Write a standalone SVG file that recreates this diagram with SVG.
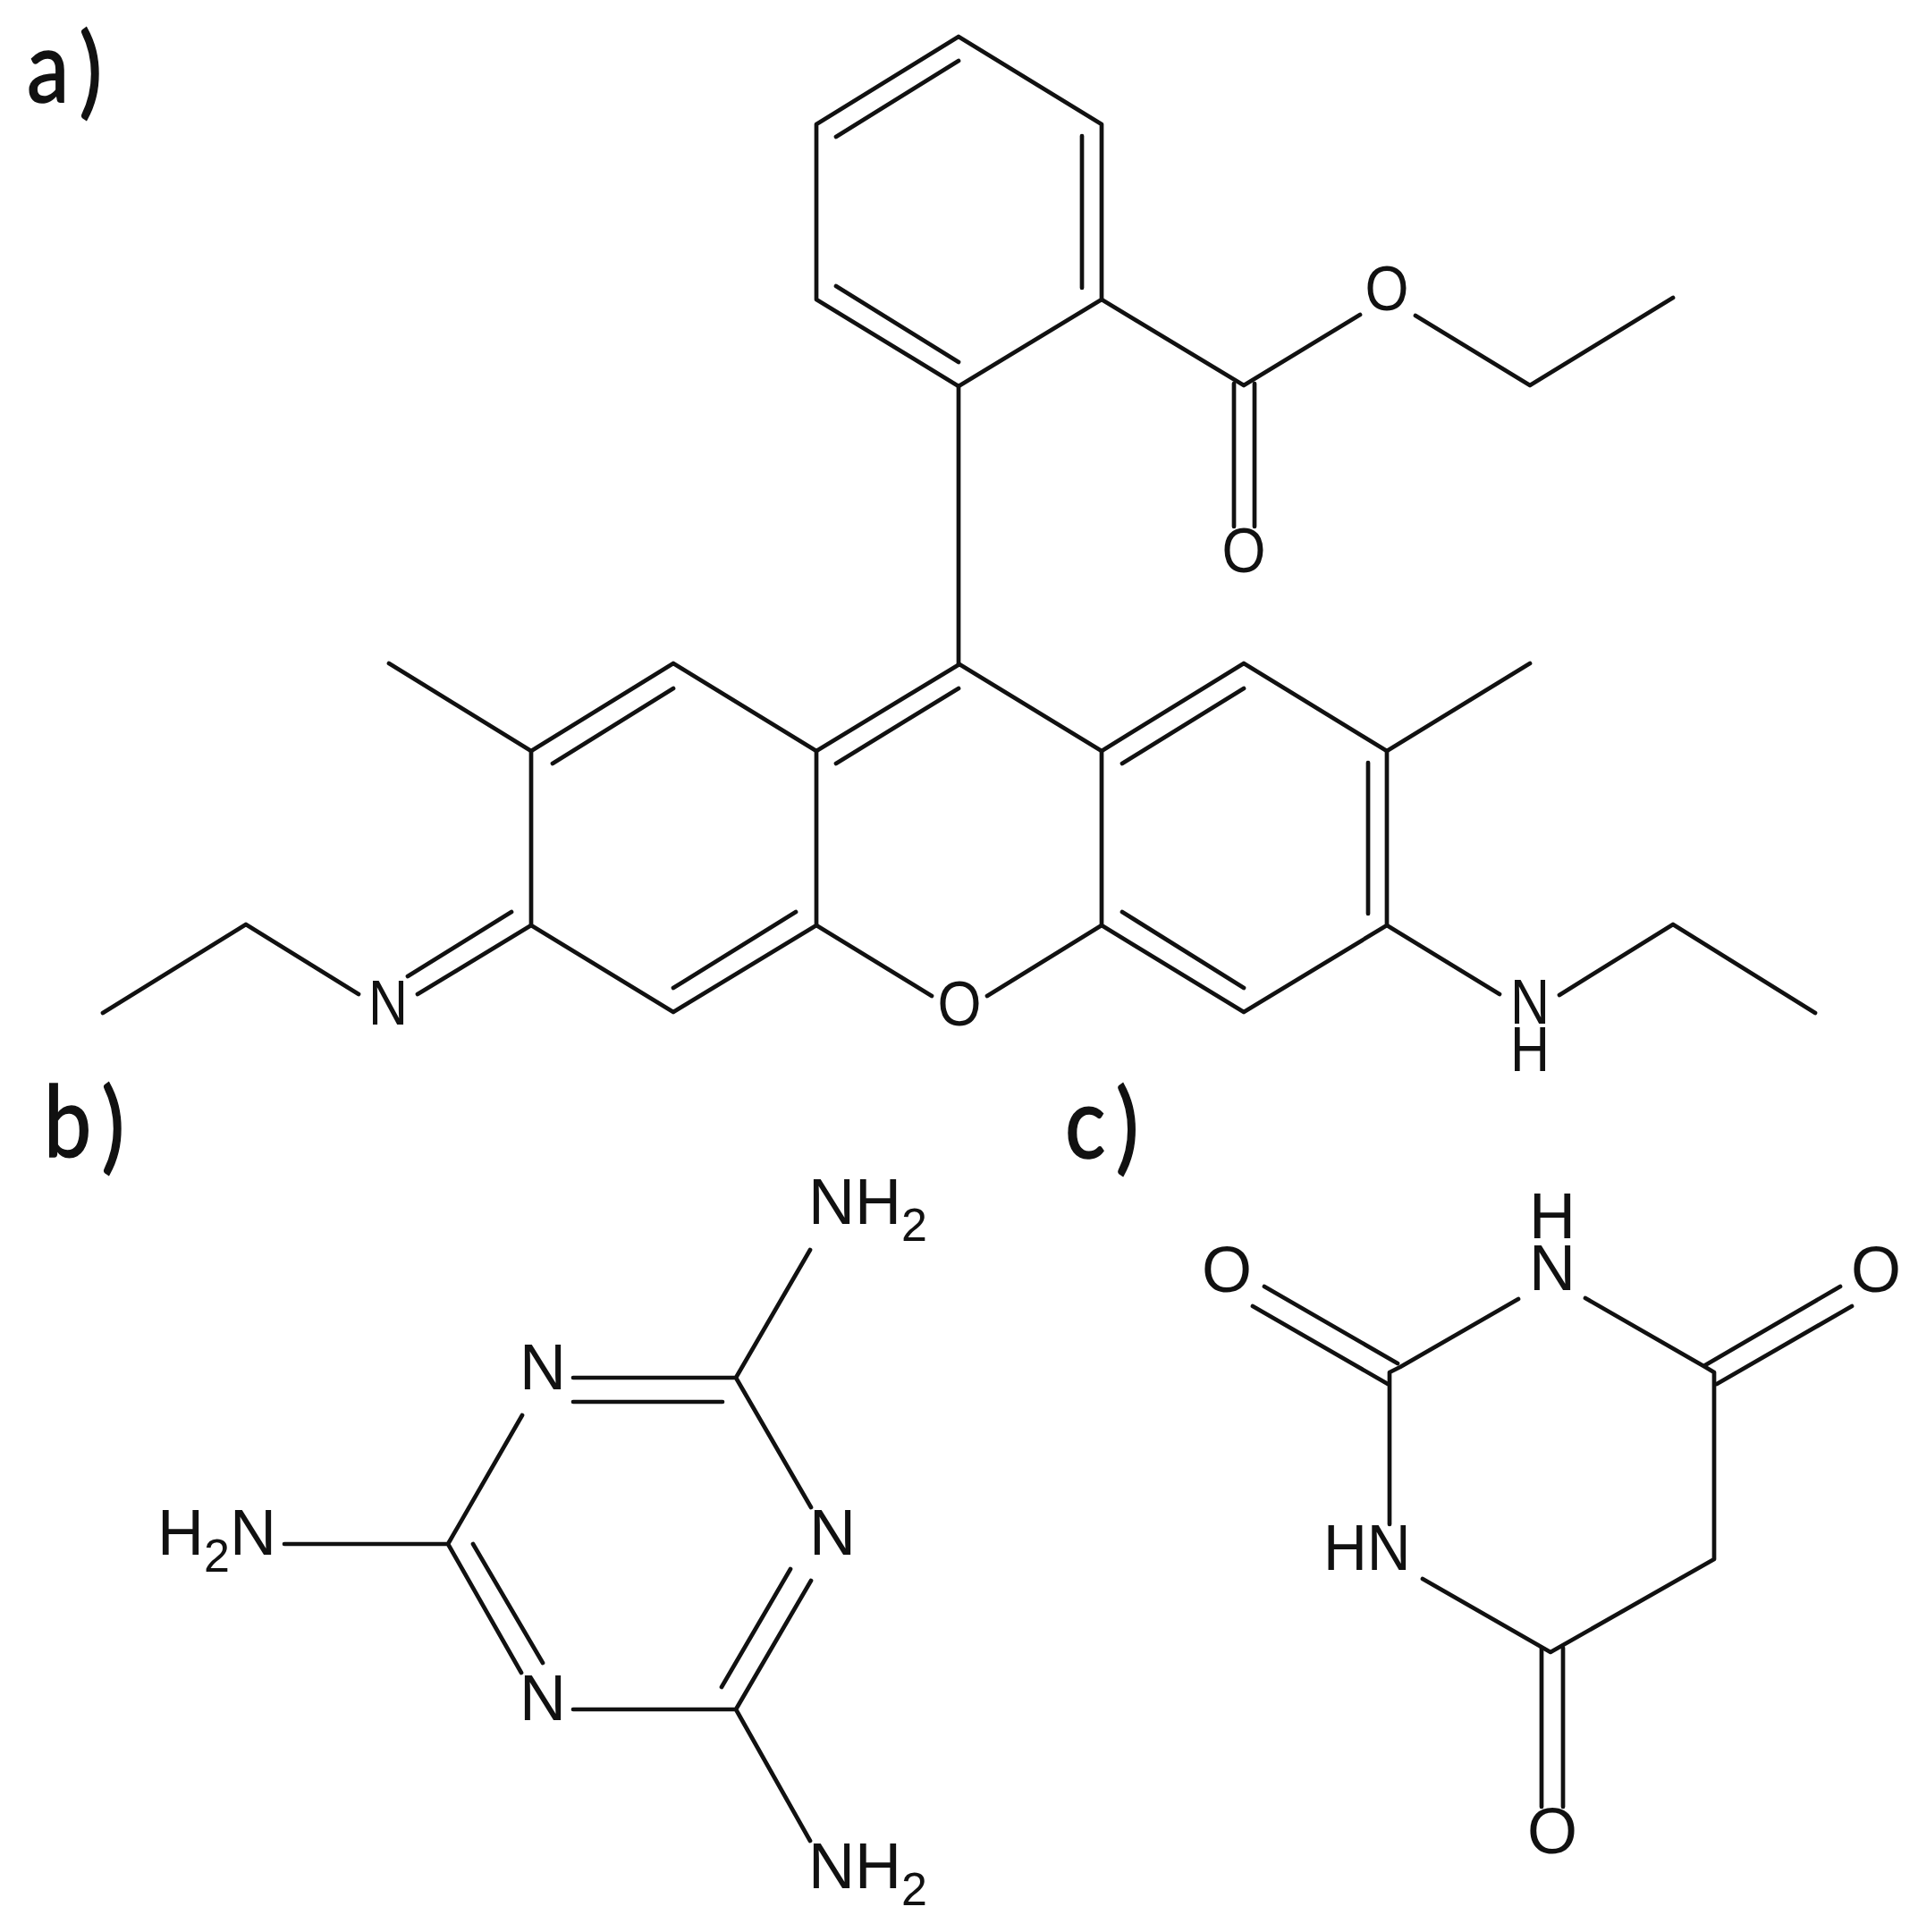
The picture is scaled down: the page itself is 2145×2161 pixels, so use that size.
<svg xmlns="http://www.w3.org/2000/svg" width="2145" height="2161" viewBox="0 0 2145 2161">
<style>
.b{fill:none;stroke:#111;stroke-width:4.7;stroke-linecap:round;stroke-linejoin:round}
.t{font-family:"Liberation Sans",Arial,sans-serif;fill:#111}
.a{font-size:70px;text-anchor:middle}
.m{font-size:72px}
.s{font-size:52px}
.p{font-family:Lato,"Open Sans",sans-serif;font-size:110px;fill:#111;stroke:#111;stroke-width:1.6}
.q{font-size:112px}
</style>
<rect width="2145" height="2161" fill="#fff"/>
<g id="connectors">
<g id="bonds-a">
<path class="b" d="M1072 41L1232 139V335L1072 432L913 335V139Z"/>
<path class="b" d="M935 153L1072 68M935 320L1072 405M1210 152V322"/>
<path class="b" d="M1072 432V743"/>
<path class="b" d="M1232 335L1391 431L1521 352M1583 353L1711 431L1871 333"/>
<path class="b" d="M1380 429V589M1403 429V589"/>
<path class="b" d="M435 742L594 840L753 742L913 840L1073 743L1232 840L1391 742L1551 840L1711 742"/>
<path class="b" d="M594 840V1035L753 1132L913 1035V840M1232 840V1035L1391 1132L1551 1035V840"/>
<path class="b" d="M753 770L618 854M1072 770L935 854M1391 770L1255 854M1530 853V1022M890 1020L753 1105M1255 1020L1391 1105"/>
<path class="b" d="M913 1035L1042 1114M1232 1035L1104 1114"/>
<path class="b" d="M594 1035L467 1112M572 1020L456 1092M401 1112L275 1034L115 1133"/>
<path class="b" d="M1551 1035L1677 1112M1744 1113L1871 1034L2030 1133"/>
</g>
<g id="bonds-b">
<path class="b" d="M641 1541H823L906 1398M823 1541L907 1686M641 1568H808"/>
<path class="b" d="M584 1583L501 1727H318M501 1727L583 1871M529 1727L607 1860"/>
<path class="b" d="M907 1768L823 1912L641 1912M884 1755L807 1887M823 1912L906 2059"/>
</g>
<g id="bonds-c">
<path class="b" d="M1698 1453L1566 1529L1554 1535V1705M1773 1452L1907 1529L1917 1535V1744L1734 1848L1591 1766"/>
<path class="b" d="M1414 1439L1563 1525M1401 1461L1552 1548M1907 1527L2058 1439M1920 1548L2071 1461"/>
<path class="b" d="M1724 1843V2021M1748 1843V2021"/>
</g>
</g>
<g id="panel-labels">
<text id="label-a" class="p" transform="translate(30 114) scale(.865 1)">a<tspan class="q" dx="13" dy="3.5">)</tspan></text>
<text id="label-b" class="p" transform="translate(49 1293) scale(.865 1)">b<tspan class="q" dx="13" dy="5">)</tspan></text>
<text id="label-c" class="p" transform="translate(1191 1295) scale(.865 1)">c<tspan class="q" dx="13" dy="3.5">)</tspan></text>
</g>
<g id="rhodamine-atoms">
<g id="a-O1"><text class="t a" transform="translate(1551 347) scale(.9 1)">O</text></g>
<g id="a-O2"><text class="t a" transform="translate(1391 640) scale(.9 1)">O</text></g>
<g id="a-O3"><text class="t a" transform="translate(1073 1147) scale(.9 1)">O</text></g>
<g id="a-N1"><text class="t a" transform="translate(434 1146) scale(.87 1)">N</text></g>
<g id="a-N2"><text class="t a" transform="translate(1711 0) scale(.87 1)"><tspan x="0" y="1145">N</tspan><tspan x="0" y="1198">H</tspan></text></g>
</g>
<g id="melamine-atoms">
<g id="b-N1"><text class="t m" text-anchor="middle" x="607" y="1554">N</text></g>
<g id="b-N2"><text class="t m" text-anchor="middle" x="931" y="1739">N</text></g>
<g id="b-N3"><text class="t m" text-anchor="middle" x="607" y="1924">N</text></g>
<g id="b-NH2-top"><text class="t m" x="904" y="1369">NH<tspan class="s" dy="19">2</tspan></text></g>
<g id="b-NH2-bottom"><text class="t m" x="904" y="2112">NH<tspan class="s" dy="19">2</tspan></text></g>
<g id="b-NH2-left"><text class="t m" x="176" y="1739">H<tspan class="s" dy="19">2</tspan><tspan dy="-19">N</tspan></text></g>
</g>
<g id="barbituric-atoms">
<g id="c-O1"><text class="t m" text-anchor="middle" x="1372" y="1445">O</text></g>
<g id="c-O2"><text class="t m" text-anchor="middle" x="2098" y="1445">O</text></g>
<g id="c-O3"><text class="t m" text-anchor="middle" x="1736" y="2073">O</text></g>
<g id="c-NH1"><text class="t m" text-anchor="middle"><tspan x="1736" y="1385">H</tspan><tspan x="1736" y="1443">N</tspan></text></g>
<g id="c-NH2"><text class="t m" transform="translate(1480 1756) scale(.94 1)">HN</text></g>
</g>
</svg>
